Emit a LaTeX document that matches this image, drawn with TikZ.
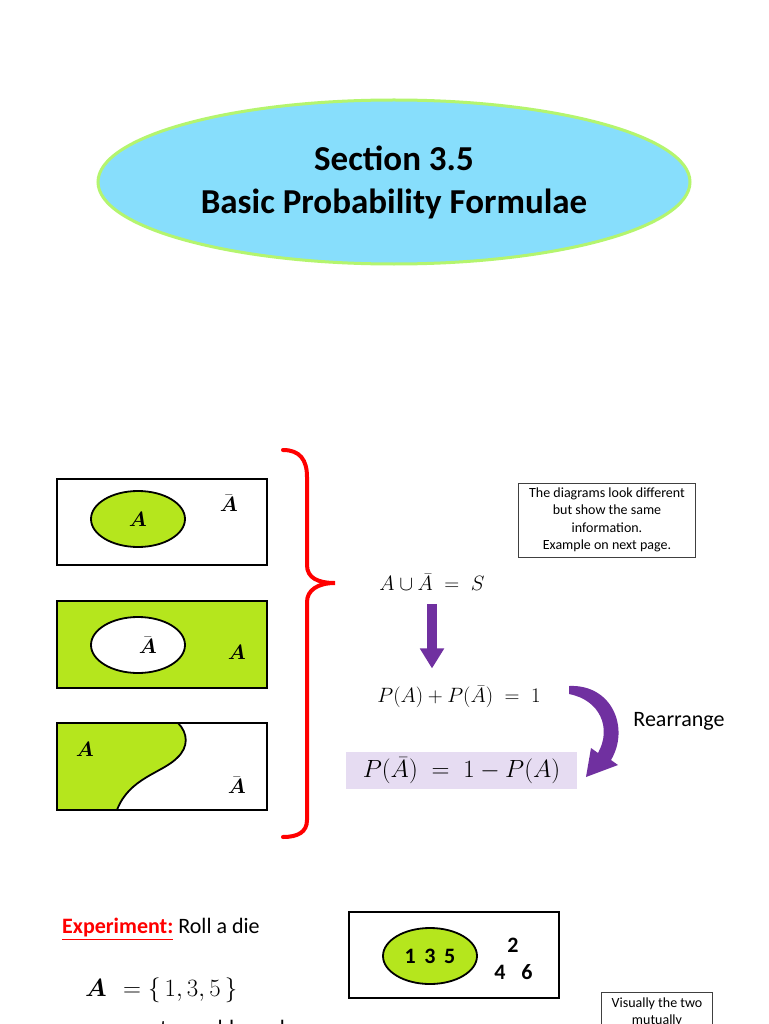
\documentclass[tikz,border=0pt]{standalone}
\usepackage{amsmath}
\usepackage{fontspec}
\setmainfont{Carlito}
\usetikzlibrary{shapes.geometric,arrows.meta}

\definecolor{cielo}{RGB}{135,222,252}
\definecolor{verdeclaro}{RGB}{180,245,110}
\definecolor{verdeA}{RGB}{181,230,29}
\definecolor{morado}{RGB}{112,48,160}
\definecolor{lavanda}{RGB}{230,220,242}

\tikzset{
	caja/.style={draw=black, line width=2.4pt},
	conjunto/.style={ellipse, draw=black, line width=1.8pt, minimum width=94pt, minimum height=56pt, inner sep=0pt},
	letra/.style={font=\fontsize{22}{24}\selectfont},
	nota/.style={draw=black!75, line width=0.8pt, align=center, inner sep=3pt, font=\fontsize{14}{17.5}\selectfont},
	texto/.style={font=\fontsize{22}{24}\selectfont},
}

\begin{document}
\begin{tikzpicture}[x=1pt, y=-1pt]
	\clip (0,0) rectangle (768,1024);
	\fill[white] (0,0) rectangle (768,1024);
	
	% Titulo
	\node[ellipse, fill=cielo, draw=verdeclaro, line width=3pt, minimum width=592pt, minimum height=164pt, align=center, font=\fontsize{35}{43}\selectfont\bfseries] (titulo) at (394,182) {Section 3.5\\Basic Probability Formulae};
	
	% Diagramas
	\begin{scope}[shift={(57,479)}]
		\draw[caja, fill=white] (0,0) rectangle (210,86);
		\node[conjunto, fill=verdeA, letra] (A1) at (81,40) {$\boldsymbol{A}$};
		\node[letra] (Ac1) at (172,24) {$\bar{\boldsymbol{A}}$};
	\end{scope}
	
	\begin{scope}[shift={(57,601)}]
		\draw[caja, fill=verdeA] (0,0) rectangle (210,87);
		\node[conjunto, fill=white, letra] (Ac2) at (81,44) {\hspace{20pt}$\bar{\boldsymbol{A}}$};
		\node[letra] (A2) at (180,51) {$\boldsymbol{A}$};
	\end{scope}
	
	\begin{scope}[shift={(57,723)}]
		\fill[verdeA] (0,0) -- (121,0) .. controls (131,10) and (132,24) .. (120,35) .. controls (105,50) and (72,55) .. (60,87) -- (0,87) -- cycle;
		\draw[line width=1.8pt] (121,0) .. controls (131,10) and (132,24) .. (120,35) .. controls (105,50) and (72,55) .. (60,87);
		\draw[caja] (0,0) rectangle (210,87);
		\node[letra] (A3) at (28,26) {$\boldsymbol{A}$};
		\node[letra] (Ac3) at (180,62) {$\bar{\boldsymbol{A}}$};
	\end{scope}
	
	% Llave
	\draw[red, line width=4pt, line cap=round] (283,450) .. controls (300,450) and (307,460) .. (307,477) -- (307,565) .. controls (307,578) and (318,583) .. (335,583) .. controls (318,583) and (307,590) .. (307,602) -- (307,820) .. controls (307,832) and (298,837) .. (283,837);
	
	% Formulas
	\node[nota, minimum width=177pt, minimum height=74pt] (nota1) at (607,520) {The diagrams look different\\but show the same\\information.\\Example on next page.};
	\node[font=\fontsize{22}{24}\selectfont] (union) at (432,582) {$A\cup\bar{A} \;=\; S$};
	\node[font=\fontsize{22.5}{24}\selectfont] (suma) at (459,697) {$P(A)+P(\bar{A}) \;=\; 1$};
	\draw[morado, line width=10pt, -{Triangle[width=23pt, length=20pt]}] ([yshift=-10pt]union.south) -- ([yshift=14pt]union.south |- suma.north);
	
	\fill[morado] (569,686) .. controls (612,684) and (630,728) .. (611,760) -- (618,765) -- (586,777) -- (591,748) -- (598,753) .. controls (612,728) and (600,700) .. (569,694) -- cycle;
	\node[font=\fontsize{22}{24}\selectfont] (reordenar) at (679,721) {Rearrange};
	
	\node[fill=lavanda, minimum width=231pt, minimum height=37pt, font=\fontsize{26.5}{28}\selectfont] (resultado) at (461.5,770.5) {$P(\bar{A}) \;=\; 1-P(A)$};
	
	% Ejemplo
	\node[texto, anchor=base west, inner sep=0pt] (experimento) at (62,933) {\textcolor{red}{\textbf{\underline{Experiment:}}} Roll a die};
	\node[font=\fontsize{25}{27}\selectfont] (conjA) at (96,988) {$\boldsymbol{A}$};
	\node[font=\fontsize{23}{25}\selectfont, anchor=west, inner sep=0pt] (valores) at (123,990) {$=\{\,1,3,5\,\}$};
	\node[texto, anchor=base west, inner sep=0pt] (impar) at (123,1035) {= get an odd number};
	
	\draw[caja] (349,912) rectangle (559,998);
	\node[conjunto, fill=verdeA, texto] (A4) at (430,956) {\textbf{1\,\ 3\,\ 5}};
	\node[texto] (dos) at (513,945) {\textbf{2}};
	\node[texto] (cuatro) at (500,972) {\textbf{4}};
	\node[texto] (seis) at (527,972) {\textbf{6}};
	
	\node[nota, anchor=north, minimum width=111pt, inner ysep=5pt] (nota2) at (657,992) {Visually the two\\mutually\\[30pt]};
\end{tikzpicture}
\end{document}
